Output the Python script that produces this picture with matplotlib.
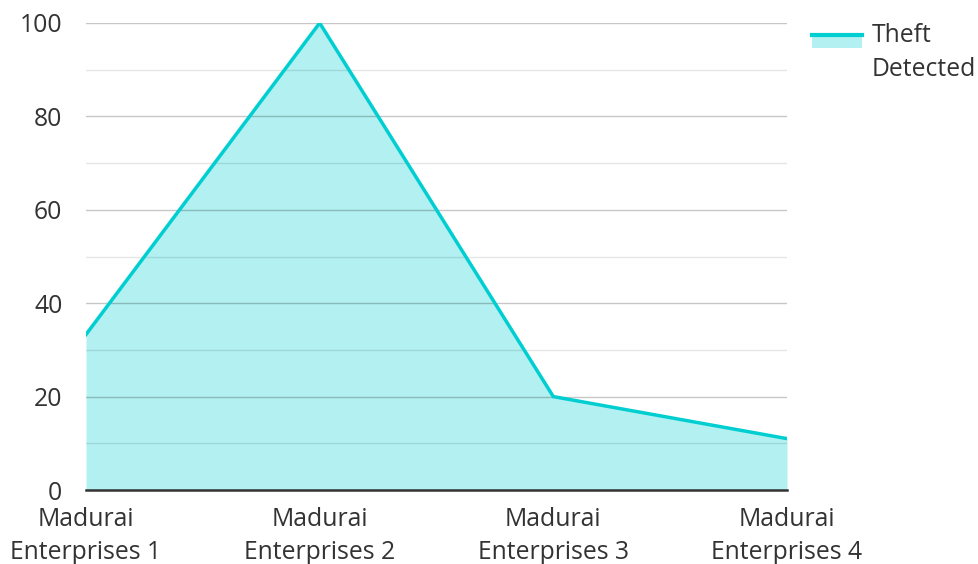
import matplotlib.pyplot as plt
from matplotlib.patches import Rectangle
from matplotlib.lines import Line2D

categories = ['Madurai\nEnterprises 1', 'Madurai\nEnterprises 2',
              'Madurai\nEnterprises 3', 'Madurai\nEnterprises 4']
theft_detected = [33.3, 100, 20, 11]
series_name = 'Theft\nDetected'

line_color = '#00CED1'
fill_color = '#B2F0F1'
text_color = '#333333'

plt.rcParams['font.family'] = ['Open Sans', 'DejaVu Sans']

fig = plt.figure(figsize=(9.79, 5.64), dpi=100)
ax = fig.add_axes([86 / 979, 74 / 564, 701 / 979, 467 / 564])

x = list(range(len(categories)))
ax.fill_between(x, theft_detected, 0, color=line_color, alpha=0.3, lw=0, zorder=1)
ax.plot(x, theft_detected, color=line_color, lw=2.5, zorder=3, solid_joinstyle='miter')

ax.set_xlim(0, len(categories) - 1)
ax.set_ylim(0, 100)
ax.set_yticks(range(0, 101, 20))
ax.set_yticks(range(10, 100, 20), minor=True)
ax.grid(axis='y', which='major', color='black', alpha=0.22, lw=1, zorder=2)
ax.grid(axis='y', which='minor', color='black', alpha=0.1, lw=1, zorder=2)
ax.set_axisbelow(False)

ax.set_xticks(x)
ax.set_xticklabels(categories, linespacing=1.45)
ax.tick_params(axis='both', which='both', length=0, labelsize=17.8, colors=text_color)
ax.tick_params(axis='y', pad=17)
ax.tick_params(axis='x', pad=12)

for s in ['left', 'right', 'top']:
    ax.spines[s].set_visible(False)
ax.spines['bottom'].set_color(text_color)
ax.spines['bottom'].set_linewidth(1.8)
ax.spines['bottom'].set_zorder(4)

# legend drawn in figure pixels
W, H = 979, 564
fig.patches.append(Rectangle((812 / W, 1 - 48 / H), 50 / W, 13 / H,
                             transform=fig.transFigure, color=fill_color, lw=0))
fig.lines.append(Line2D([812 / W, 862 / W], [1 - 35 / H, 1 - 35 / H],
                        transform=fig.transFigure, color=line_color, lw=3))
fig.text(872 / W, 1 - 23 / H, series_name, fontsize=17.8, color=text_color,
         va='top', ha='left', linespacing=1.45)

fig.savefig('out.png', dpi=100)
